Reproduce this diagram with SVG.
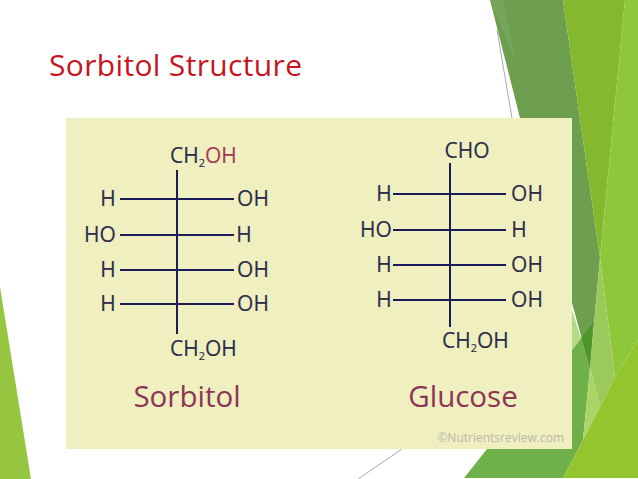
<svg xmlns="http://www.w3.org/2000/svg" width="638" height="479" viewBox="0 0 638 479">
<style>
text{font-family:"Open Sans","Noto Sans","Liberation Sans",sans-serif}
.chem{font-size:21px;fill:#2a2c4a;text-anchor:middle;stroke:#2a2c4a;stroke-width:.15}
.sub{font-size:11px}
.name{font-size:29.5px;fill:#8c3556;text-anchor:middle}
.bond{stroke:#1c1c58;stroke-width:2;fill:none}
.thin{stroke:#a8aca8;stroke-width:1;fill:none}
</style>
<rect width="638" height="479" fill="#fff"/>
<g id="background">
<path d="M490 0H563L600 258L590 368L572 303V118H520Z" fill="#6d9f4e"/>
<path d="M490 0H503L516 62Z" fill="#75a65c"/>
<path d="M563 0H625L600 258Z" fill="#84b82f"/>
<path d="M625 0H638V340L615 377L600 258Z" fill="#8fc73a"/>
<path d="M464 478L487 449H572V350L581 338L590 368L583 440L563 478Z" fill="#70b04a"/>
<path d="M572 310L581 338L572 350Z" fill="#b5d88a"/>
<path d="M581 338L593 323L590 368Z" fill="#4f9628"/>
<path d="M600 258L615 377L600 407L590 368Z" fill="#9cc95c"/>
<path d="M590 368L600 407L583 440Z" fill="#a8d468"/>
<path d="M638 340V478H563L583 440L600 407L615 377Z" fill="#93c62e"/>
<path d="M0 287L31 479H0Z" fill="#96c63f"/>
<path d="M497 30L512 118" class="thin"/>
<path d="M402 449L358 479" class="thin"/>
</g>
<text id="title" x="49" y="76" font-size="30" fill="#c8141e" textLength="253">Sorbitol Structure</text>
<rect id="panel" x="66" y="118" width="506" height="331" fill="#f0efc0"/>
<g id="connectors">
<path class="bond" d="M177 170V334M120 199H234M120 235H234M120 270H234M120 304H234"/>
<path class="bond" d="M450 163V327M393 194H506M393 230H506M393 265H506M393 300H506"/>
</g>
<g id="sorbitol">
<text class="chem" x="170" y="163" style="text-anchor:start">CH<tspan class="sub" dy="4">2</tspan><tspan dy="-4" fill="#a8385a" stroke="#a8385a">OH</tspan></text>
<text class="chem" x="108" y="206">H</text><text class="chem" x="253" y="206">OH</text>
<text class="chem" x="100" y="242">HO</text><text class="chem" x="244" y="242">H</text>
<text class="chem" x="108" y="277">H</text><text class="chem" x="253" y="277">OH</text>
<text class="chem" x="108" y="311">H</text><text class="chem" x="253" y="311">OH</text>
<text class="chem" x="170" y="356" style="text-anchor:start">CH<tspan class="sub" dy="4">2</tspan><tspan dy="-4">OH</tspan></text>
<text class="name" x="187" y="407">Sorbitol</text>
</g>
<g id="glucose">
<text class="chem" x="467" y="158">CHO</text>
<text class="chem" x="384" y="201">H</text><text class="chem" x="527" y="201">OH</text>
<text class="chem" x="376" y="237">HO</text><text class="chem" x="519" y="237">H</text>
<text class="chem" x="384" y="272">H</text><text class="chem" x="527" y="272">OH</text>
<text class="chem" x="384" y="307">H</text><text class="chem" x="527" y="307">OH</text>
<text class="chem" x="442" y="348" style="text-anchor:start">CH<tspan class="sub" dy="4">2</tspan><tspan dy="-4">OH</tspan></text>
<text class="name" x="463" y="407">Glucose</text>
</g>
<text id="credit" x="564" y="442" font-size="12" fill="#b9b9a8" text-anchor="end">©Nutrientsreview.com</text>
</svg>
